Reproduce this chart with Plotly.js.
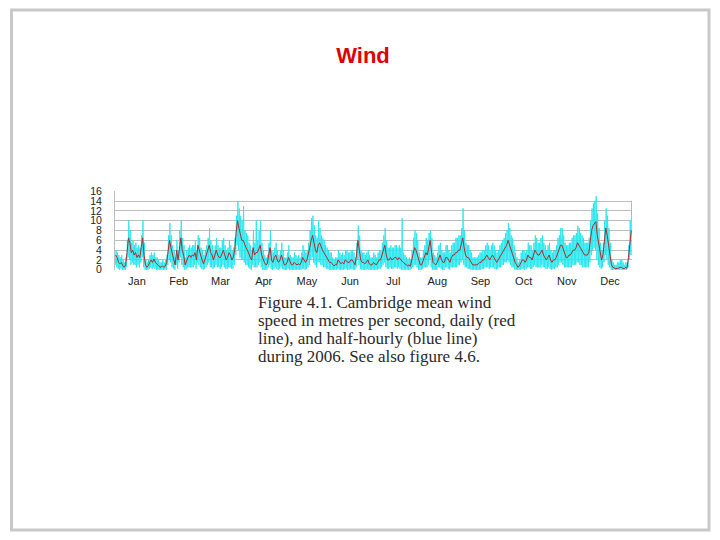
<!DOCTYPE html>
<html>
<head>
<meta charset="utf-8">
<script src="https://cdn.plot.ly/plotly-3.0.1.min.js"></script>
<style>html,body{margin:0;padding:0;background:#fff;}#chart{width:720px;height:540px;}</style>
</head>
<body>
<div id="chart"></div>
<script>
// Daily mean wind speed (m/s), Cambridge 2006 (red line), Jan..Dec
const dailyMean = [
 3,2.5,1.5,1.2,1.5,0.8,0.5,1.0,3.5,6.5, 5.5,3.5,4,3,3.5,2.5,3,2.5,4.5,6.5, 3,1,0.5,0.8,1.5,2,1.5,2.2,1.5,1.2, 0.8,
 0.6,0.5,0.8,0.5,0.7,1.5,4,6,4.5,3, 2,1,4,2,5,6.5,4,3,1,2, 2.5,3,2.5,3,2.8,3.5,2,5,
 4,2.5,2,1.2,2,3,4,5,3.5,3, 2,3,4,3,2.5,2.5,3.5,4,3,2, 2.5,3.5,3,2,2.5,4,7.5,10,8.5,7, 6,
 6,5,4.5,4,3,2.5,2,4.5,3,3.5, 3.5,4.5,5,3,2,1.5,1,1.2,3,4.5, 2,1.5,2.5,3,2,1.5,2,3,2,1,
 1,1.5,2.5,1.5,1,1,1.5,1.2,1,1.2, 1,1.5,2.5,2,1.5,2,3,4.5,6,7, 5.5,4,3.5,5,5.5,4.5,4,3.5,3,2.5, 2,
 1.5,1.5,1,0.8,1,1,2,1.5,1.2,1.5, 1.2,2,1.8,1.5,1.5,2,2,1.5,1,3, 6,4,2,1.5,1.5,1.2,1.5,2,1.2,1,
 1,1.5,1.2,1,1.5,2,2,3,4,5, 3,2,2,2.5,2,2.2,2.5,2.5,2,2.5, 2,1.8,1.5,1.2,1,0.8,1,0.7,2,3.5, 4.5,
 4,3,1.5,1,1,2,2.5,3.5,3,4.5, 6,3.5,1.5,1.2,1,1.5,2.5,3,2,1.5, 1.5,2.5,2.5,2,1.5,2.5,3,3,3.5,3.5, 4,
 4,5,6.5,4.5,3,2.5,2.5,2,1.5,1, 1,1,1,1.2,1.5,1.5,2,2,2.5,3, 2.5,2,2.5,3,2.5,2,1.5,2,2.5,3,
 3.5,4,4.5,5,6,5,4,3.5,2.5,1.5, 1,0.5,0.8,1.5,2,2,1.5,2,3,2.5, 2.5,2,3,4,3.5,3,3,3.5,4,3, 2.5,
 2,2.5,3,2,1.5,2,2,2.5,3.5,4, 5,5,4,3,2.5,2.5,3,3,3.5,4, 4,4.5,5.5,5,4.5,4,3.5,3,3,3,
 3.5,6,8,9,9.5,9.8,7,5,3,2, 3,6,8.5,7,5,3,1,0.5,0.3,0.2, 0.3,0.3,0.5,0.5,0.3,0.2,0.5,0.3,2.5,5.5, 8
];
// Half-hourly readings (blue/cyan line): daily highest reading
const halfHourlyHigh = [
 4,3.5,3,2.5,3,2,1.5,2.5,6,10, 8,5.5,6,5,5.5,4.5,5,4.5,7,10, 5.5,2,1.5,2,3,3.5,3,3.5,2.5,2.5, 2,
 1.5,1.5,2,1.5,2,3,7,9.5,7,5, 4,2.5,6,4,8,10,6.5,5,2.5,4, 4.5,5,4.5,5,5,6,4,7,
 6.5,4.5,4,3,4,5,6.5,8.5,6,5, 4,5,6.5,5,4.5,4.5,6,6.5,5,4, 4.5,6,5,4,4.5,6.5,11,14,12.5,11, 10,
 13,8,7.5,7,5.5,5,4,8,5.5,10, 6,8,10,5.5,4,3,2.5,3,5.5,8, 4,3.5,4.5,5.5,4,3,4,5.5,4,2.5,
 2.5,3.5,5,3,2.5,2.5,3.5,3,2.5,3, 2.5,3.5,5,4,3.5,4,5.5,8,10.5,11, 9,7,6.5,10,8.5,7,6.5,6,5,4.5, 4,
 3.5,3.5,2.5,2,2.5,2.5,4,3.5,3,3.5, 3,4,4,3.5,3.5,4,4,3.5,2.5,5.5, 9,7,4,3.5,3.5,3,3.5,4,3,2.5,
 2.5,3.5,3,2.5,3.5,4,4,5.5,7,8.5, 6,4.5,4.5,5,4.5,4.5,5,5,4.5,5, 4.5,10.5,3.5,3,2.5,2,2.5,2,4,6.5, 8,
 7.5,6,3.5,2.5,2.5,4,5,6.5,6,7.5, 8,6.5,3.5,3,2.5,3.5,5,5.5,4,3.5, 3.5,5,5,4,3.5,5,5.5,5.5,6.5,6.5, 7,
 7,8.5,12.5,8,5.5,5,5,4,3.5,2.5, 2.5,2.5,2.5,3,3.5,3.5,4,4,5,5.5, 5,4,5,5.5,5,4,3.5,4,5,5.5,
 6,6.5,7.5,8,9.5,8.5,7,6.5,5,3.5, 2.5,1.5,2,3.5,4,4,3.5,4,5.5,5, 5,4,5.5,7,6.5,5.5,5.5,6.5,7,5.5, 5,
 4,5,5.5,4,3.5,4,4,5,6.5,7, 8.5,8.5,7,5.5,5,5,5.5,5.5,6.5,7, 7,7.5,9,8.5,7.5,7,6.5,5.5,5.5,5.5,
 6.5,10,12.5,13.5,14,15,11.5,8.5,5.5,4, 5.5,10,12.5,11,8.5,5.5,2,1.5,1,1, 1.5,1.5,2,2,1.5,1,1.5,1.5,5,10, 14
];
// Half-hourly readings: daily lowest reading
const halfHourlyLow = [
 1,0.5,0.2,0,0.2,0,0,0,0.5,2.5, 2,1,1.5,1,1,0.5,1,0.5,1.5,2.5, 0.5,0,0,0,0.2,0.5,0.2,0.5,0.2,0, 0,
 0,0,0,0,0,0,1,2,1.5,0.5, 0.2,0,1,0.2,1.5,2.5,1,0.5,0,0.2, 0.5,0.5,0.5,0.5,0.5,1,0.2,1.5,
 1,0.5,0.2,0,0.2,0.5,1,1.5,0.5,0.5, 0.2,0.5,1,0.5,0.5,0.2,0.5,1,0.5,0.2, 0.2,0.5,0.5,0.2,0.2,1,3,5,4,2.5, 2,
 2,1.5,1,1,0.5,0.2,0,1,0.5,0.5, 0.5,1,1.5,0.5,0,0,0,0,0.5,1, 0.2,0,0.2,0.5,0.2,0,0.2,0.5,0.2,0,
 0,0,0.2,0,0,0,0,0,0,0, 0,0,0.2,0.2,0,0.2,0.5,1,2,2.5, 1.5,1,0.5,1.5,1.5,1,1,0.5,0.5,0.2, 0.2,
 0,0,0,0,0,0,0.2,0,0,0, 0,0.2,0.2,0,0,0.2,0.2,0,0,0.5, 2,1,0.2,0,0,0,0,0.2,0,0,
 0,0,0,0,0,0.2,0.2,0.5,1,1.5, 0.5,0.2,0.2,0.5,0.2,0.2,0.5,0.5,0.2,0.5, 0.2,0,0,0,0,0,0,0,0.2,0.5, 1,
 1,0.5,0,0,0,0.2,0.5,0.5,0.5,1, 2,0.5,0,0,0,0,0.5,0.5,0.2,0, 0,0.5,0.5,0.2,0,0.5,0.5,0.5,0.5,0.5, 1,
 1,1.5,2,1,0.5,0.5,0.2,0.2,0,0, 0,0,0,0,0,0,0.2,0.2,0.5,0.5, 0.5,0.2,0.5,0.5,0.5,0.2,0,0.2,0.5,0.5,
 1,1,1.5,1.5,2,1.5,1,0.5,0.5,0, 0,0,0,0,0.2,0.2,0,0.2,0.5,0.5, 0.2,0.2,0.5,1,0.5,0.5,0.5,0.5,1,0.5, 0.5,
 0.2,0.2,0.5,0.2,0,0.2,0.2,0.5,0.5,1, 1.5,1.5,1,0.5,0.5,0.5,0.5,0.5,0.5,1, 1,1,1.5,1.5,1,1,0.5,0.5,0.5,0.5,
 0.5,1.5,3,4,4.5,4,2,1,0.5,0.2, 0.5,1.5,3,2,1,0.5,0,0,0,0, 0,0,0,0,0,0,0,0,0.5,2, 3
];
const monthLabels = ["Jan","Feb","Mar","Apr","May","Jun","Jul","Aug","Sep","Oct","Nov","Dec"];
const monthDays = [31,28,31,30,31,30,31,31,30,31,30,31];
const yTicks = [0,2,4,6,8,10,12,14,16];
const titleText = "Wind";
const captionLines = [
 "Figure 4.1. Cambridge mean wind",
 "speed in metres per second, daily (red",
 "line), and half-hourly (blue line)",
 "during 2006. See also figure 4.6."
];

// build traces
const n = dailyMean.length;
const dayX = [], hx = [], hy = [];
for (let i = 0; i < n; i++) {
  dayX.push(i + 0.5);
  const lo = halfHourlyLow[i] !== undefined ? halfHourlyLow[i] : 0;
  const hi = halfHourlyHigh[i] !== undefined ? halfHourlyHigh[i] : lo;
  hx.push(i + 0.25); hy.push(lo);
  hx.push(i + 0.75); hy.push(hi);
}
const monthMid = [];
let acc = 0;
for (let m = 0; m < 12; m++) { monthMid.push(acc + monthDays[m] / 2); acc += monthDays[m]; }

// pixel layout helpers (plot area 115..632 x 191..270)
const L = 115, R = 632, T = 191, B = 270;
const W = R - L, H = B - T;
const px = v => (v - L) / W;
const py = v => (B - v) / H;

const annotations = captionLines.map((t, k) => ({
  text: t, xref: 'paper', yref: 'paper', x: px(256), y: py(302 + k * 18),
  xanchor: 'left', yanchor: 'middle', showarrow: false, align: 'left',
  font: {family: 'Liberation Serif, serif', size: 17, color: '#2a2a2a'}
}));

const data = [
  {x: hx, y: hy, type: 'scatter', mode: 'lines', line: {color: '#22e6ee', width: 0.9}, hoverinfo: 'skip'},
  {x: dayX, y: dailyMean, type: 'scatter', mode: 'lines', line: {color: '#a83030', width: 1}, hoverinfo: 'skip'}
];

const layout = {
  width: 720, height: 540,
  margin: {l: L, r: 720 - R, t: T, b: 540 - B, pad: 0},
  paper_bgcolor: '#ffffff', plot_bgcolor: '#ffffff',
  showlegend: false,
  title: {text: titleText, x: 363 / 720, xanchor: 'center', y: 1 - 55 / 540, yanchor: 'middle', yref: 'container', xref: 'container',
          font: {family: 'Liberation Sans, Arial, sans-serif', size: 22, color: '#e00000', weight: 'bold'}},
  xaxis: {range: [0, 365], tickmode: 'array', tickvals: monthMid, ticktext: monthLabels,
          showgrid: false, zeroline: false, showline: false, ticks: '', ticklabelstandoff: 3,
          tickfont: {family: 'Liberation Sans, Arial, sans-serif', size: 11, color: '#222'}, fixedrange: true},
  yaxis: {range: [-0.05, 16.05], tickmode: 'array', tickvals: yTicks, ticktext: yTicks.map(String),
          showgrid: true, gridcolor: '#bdbdbd', gridwidth: 1, zeroline: false,
          showline: true, linecolor: '#bdbdbd', linewidth: 1, ticks: '', ticklabelstandoff: 10,
          tickfont: {family: 'Liberation Sans, Arial, sans-serif', size: 10.5, color: '#222'}, fixedrange: true},
  shapes: [{type: 'rect', xref: 'paper', yref: 'paper', x0: px(11.5), x1: px(709), y0: py(530), y1: py(10),
            line: {color: '#c8c8c8', width: 3}, fillcolor: 'rgba(0,0,0,0)', layer: 'below'}],
  annotations: annotations
};

Plotly.newPlot('chart', data, layout, {displayModeBar: false, staticPlot: true});
</script>
</body>
</html>
